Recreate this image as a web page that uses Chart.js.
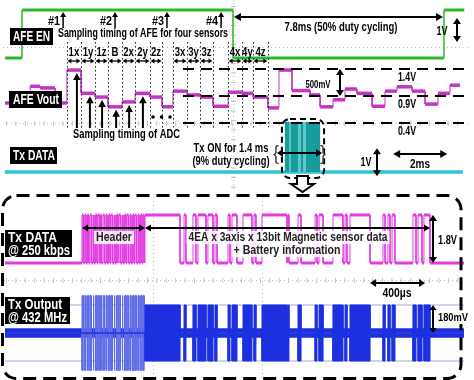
<!DOCTYPE html>
<html><head><meta charset="utf-8">
<style>html,body{margin:0;padding:0;background:#fff;overflow:hidden}</style>
<script src="https://cdn.jsdelivr.net/npm/chart.js@4.4.1/dist/chart.umd.min.js"></script>
</head><body><canvas id="c" width="474" height="380"></canvas>
<script>
// ================= DATA =================
// AFE EN (time in ms, level in V) - each level holds from its time to the next
const enTimesMs = [-0.63, 0, 7.8, 15.6, 16.35];
const enLevelsV = [0, 2.0, 0, 2.0, 2.0];

// AFE Vout steps (ms, V)
const voutTimesMs = [-0.63, 0, 0.30, 0.67, 1.22, 1.66, 2.18, 2.70, 3.18, 3.70, 4.18, 4.73, 5.18, 5.58, 6.10, 6.58, 7.06, 7.62, 8.13, 8.54, 9.09, 9.50, 9.98, 10.65, 11.02, 11.50, 11.94, 12.38, 12.94, 13.42, 13.86, 14.42, 14.90, 15.38, 15.82, 16.19];
const voutLevelsV = [0.77, 0.88, 1.08, 1.05, 0.77, 1.38, 0.95, 0.88, 0.70, 0.79, 0.95, 0.88, 0.70, 0.99, 0.92, 0.88, 0.71, 0.97, 0.95, 0.88, 0.68, 1.38, 1.00, 0.92, 0.70, 0.83, 1.03, 0.95, 0.71, 0.99, 1.07, 0.99, 0.75, 0.95, 1.10, 1.10];
const voutRefV = [1.4, 0.9, 0.4];
const voutRefLabels = ['1.4V', '0.9V', '0.4V'];

// sensor phases (segments of the Vout steps, starting at step index 5)
const phaseFirstStep = 5;
const phaseLabels = ['1x', '1y', '1z', 'B', '2x', '2y', '2z', '', '3x', '3y', '3z', '', '4x', '4y', '4z'];
const afeSampleMs = [1.52, 3.44, 5.36, 7.36];
const afeSampleLabels = ['#1', '#2', '#3', '#4'];
const adcSampleMs = [2.03, 2.51, 2.96, 3.48, 3.96, 4.47];

// Tx DATA (top view, ms)
const txTopSpanMs = [-0.63, 16.3];
const txTopBurstMs = [9.72, 11.02];
const txTopDenseMs = [[9.72, 9.87], [9.94, 10.20], [10.31, 10.39], [10.50, 11.02]];
const txLevelV = 1.8;

// Tx DATA (zoomed view, microseconds) : high intervals
const txBotSpanUs = [-560, 2778];
const txHeaderUs = [[0, 9], [20, 29], [40, 49], [58, 69], [80, 87], [98, 109], [116, 127], [135, 142], [153, 164], [175, 182], [193, 204], [211, 222], [233, 240], [251, 262], [269, 280], [291, 298], [309, 320], [327, 338], [349, 356], [367, 378], [385, 396], [407, 415], [425, 436], [444, 452]];
const txPayloadUs = [[458, 713], [742, 756], [807, 829], [844, 902], [916, 953], [967, 982], [1062, 1076], [1091, 1127], [1171, 1236], [1251, 1265], [1309, 1491], [1498, 1505], [1571, 1593], [1695, 1709], [1724, 1753], [1825, 1898], [1913, 1927], [1949, 2095], [2189, 2204], [2225, 2240], [2255, 2276], [2407, 2429], [2444, 2473], [2487, 2531]];
// Tx Output (432 MHz OOK) amplitudes, mV
const rfAmpMv = 180;
const rfHeaderAmpMv = 240;
const rfNoiseMv = 30;
// scale bars
const timeBarMs = [13.72, 15.72];
const timeBarUs = [2095, 2495];

// ================= CHANNEL PLACEMENT (scope settings) =================
const W = 474, H = 380;
function xRange(ref, px, ppu) { const min = ref - px / ppu; return { min, max: min + W / ppu }; }
function yRange(ref, px, ppu) { const max = ref + px / ppu; return { min: max - H / ppu, max }; }
const chan = {
  xTop: xRange(0, 22, 27.05),
  xBot: xRange(0, 82, 0.1375),
  yEN: yRange(0, 58, 24),
  yVout: yRange(0.9, 96, 54),
  yTxTop: yRange(0, 172, 27.8),
  yTxBot: yRange(0, 263, 26.7),
  yRF: yRange(0, 333, 0.1556)
};

// ================= SERIES BUILDERS =================
function stepSeries(times, levels) {
  const pts = [];
  for (let i = 0; i < times.length; i++) {
    if (i > 0) pts.push({ x: times[i], y: levels[i - 1] });
    pts.push({ x: times[i], y: levels[i] });
  }
  return pts;
}
function pulseSeries(span, runs, hi, lo) {
  const pts = [{ x: span[0], y: lo }];
  runs.forEach(([a, b]) => pts.push({ x: a, y: lo }, { x: a, y: hi }, { x: b, y: hi }, { x: b, y: lo }));
  pts.push({ x: span[1], y: lo });
  return pts;
}
function flat(span, v) { return [{ x: span[0], y: v }, { x: span[1], y: v }]; }
const thinVert = (thin, thick) => ctx => Math.abs(ctx.p0.x - ctx.p1.x) < 0.3 ? thin : thick;
function voutAt(t) { let v = voutLevelsV[0]; voutTimesMs.forEach((tt, i) => { if (tt <= t) v = voutLevelsV[i]; }); return v; }

const datasets = [];
function add(d) {
  datasets.push(Object.assign({ pointRadius: 0, pointHoverRadius: 0, tension: 0, fill: false, order: -datasets.length }, d));
}
const allTx = txHeaderUs.concat(txPayloadUs);
// Tx Output (blue)
add({ xAxisID: 'xBot', yAxisID: 'yRF', data: flat(txBotSpanUs, rfAmpMv), borderColor: '#a3aadf', borderWidth: 1 });
add({ xAxisID: 'xBot', yAxisID: 'yRF', data: flat(txBotSpanUs, -rfAmpMv), borderColor: '#a3aadf', borderWidth: 1 });
add({ xAxisID: 'xBot', yAxisID: 'yRF', data: flat(txBotSpanUs, rfNoiseMv), borderWidth: 0, fill: { value: -rfNoiseMv }, backgroundColor: '#1d30e0' });
add({ xAxisID: 'xBot', yAxisID: 'yRF', data: pulseSeries(txBotSpanUs, txHeaderUs, rfHeaderAmpMv, 0), borderColor: '#5f6be8', borderWidth: 1, fill: 'origin', backgroundColor: '#7480ec' });
add({ xAxisID: 'xBot', yAxisID: 'yRF', data: pulseSeries(txBotSpanUs, txHeaderUs, -rfHeaderAmpMv, 0), borderColor: '#5f6be8', borderWidth: 1, fill: 'origin', backgroundColor: '#7480ec' });
add({ xAxisID: 'xBot', yAxisID: 'yRF', data: pulseSeries(txBotSpanUs, txPayloadUs, rfAmpMv, 0), borderColor: '#1d30e0', borderWidth: 1, fill: 'origin', backgroundColor: '#1d30e0' });
add({ xAxisID: 'xBot', yAxisID: 'yRF', data: pulseSeries(txBotSpanUs, txPayloadUs, -rfAmpMv, 0), borderColor: '#1d30e0', borderWidth: 1, fill: 'origin', backgroundColor: '#1d30e0' });
// Tx DATA zoomed (magenta)
add({ xAxisID: 'xBot', yAxisID: 'yTxBot', data: flat([txHeaderUs[0][0], txHeaderUs[txHeaderUs.length - 1][1]], txLevelV), borderWidth: 0, fill: 'origin', backgroundColor: 'rgba(238,150,236,0.45)' });
add({ xAxisID: 'xBot', yAxisID: 'yTxBot', data: pulseSeries(txBotSpanUs, allTx, txLevelV, 0), borderColor: '#e23be2', borderWidth: 3, segment: { borderWidth: thinVert(1, 3) } });
// Tx DATA top (cyan / teal)
add({ xAxisID: 'xTop', yAxisID: 'yTxTop', data: flat(txTopSpanMs, 0), borderColor: '#2fc3d3', borderWidth: 3.5 });
add({ xAxisID: 'xTop', yAxisID: 'yTxTop', data: pulseSeries(txTopSpanMs, [txTopBurstMs], txLevelV, 0), borderWidth: 0, fill: 'origin', backgroundColor: '#63c7c9' });
add({ xAxisID: 'xTop', yAxisID: 'yTxTop', data: pulseSeries(txTopSpanMs, txTopDenseMs, txLevelV, 0), borderWidth: 0, fill: 'origin', backgroundColor: '#179c9e' });
// AFE EN (green)
add({ xAxisID: 'xTop', yAxisID: 'yEN', data: stepSeries(enTimesMs, enLevelsV), borderColor: '#2db82d', borderWidth: 3, segment: { borderWidth: thinVert(1.5, 3) } });
// AFE Vout (magenta)
add({ xAxisID: 'xTop', yAxisID: 'yVout', data: stepSeries(voutTimesMs, voutLevelsV), borderColor: '#c535c5', borderWidth: 3.5, segment: { borderWidth: thinVert(1, 3.5) } });

// ================= DRAW HELPERS =================
const FONT = '"Liberation Sans Narrow","Arial Narrow","Liberation Sans",Arial,sans-serif';
function head(c, x, y, ang, len, half) {
  const ca = Math.cos(ang), sa = Math.sin(ang);
  c.beginPath(); c.moveTo(x, y);
  c.lineTo(x - len * ca - half * sa, y - len * sa + half * ca);
  c.lineTo(x - len * ca + half * sa, y - len * sa - half * ca);
  c.closePath(); c.fill();
}
function arrow(c, x1, y1, x2, y2, o = {}) {
  const w = o.w ?? 2, len = o.len ?? 6, half = o.half ?? 3.5, both = o.both ?? true;
  const ang = Math.atan2(y2 - y1, x2 - x1), ca = Math.cos(ang), sa = Math.sin(ang);
  c.save(); c.strokeStyle = c.fillStyle = o.color || '#000'; c.lineWidth = w; c.setLineDash([]);
  c.beginPath();
  c.moveTo(both ? x1 + ca * len * 0.6 : x1, both ? y1 + sa * len * 0.6 : y1);
  c.lineTo(x2 - ca * len * 0.6, y2 - sa * len * 0.6); c.stroke();
  head(c, x2, y2, ang, len, half);
  if (both) head(c, x1, y1, ang + Math.PI, len, half);
  c.restore();
}
function text(c, s, x, y, size, width, o = {}) {
  c.save();
  c.font = (o.weight || 'bold') + ' ' + size + 'px ' + FONT;
  c.textBaseline = 'middle'; c.textAlign = 'left';
  const nat = c.measureText(s).width;
  const sx = width ? width / nat : (o.sx || 0.85);
  const tw = nat * sx;
  const left = o.align === 'left' ? x : x - tw / 2;
  if (o.bg) { c.fillStyle = o.bg; c.fillRect(left - 2, y - size * 0.55, tw + 4, size * 1.1); }
  c.fillStyle = o.color || '#000';
  c.translate(left, y); c.scale(sx, 1); c.fillText(s, 0, 0);
  c.restore();
}
function line(c, x1, y1, x2, y2) { c.beginPath(); c.moveTo(x1, y1); c.lineTo(x2, y2); c.stroke(); }
function rrect(c, x0, y0, x1, y1, r) {
  c.beginPath();
  c.moveTo(x0 + r, y0); c.lineTo(x1 - r, y0); c.arcTo(x1, y0, x1, y0 + r, r);
  c.lineTo(x1, y1 - r); c.arcTo(x1, y1, x1 - r, y1, r);
  c.lineTo(x0 + r, y1); c.arcTo(x0, y1, x0, y1 - r, r);
  c.lineTo(x0, y0 + r); c.arcTo(x0, y0, x0 + r, y0, r);
  c.closePath();
}
function labelBox(c, x0, y0, x1, y1, lines) {
  c.save(); c.fillStyle = '#000'; c.fillRect(x0, y0, x1 - x0, y1 - y0); c.restore();
  lines.forEach(l => text(c, l[0], l[1], l[2], l[3], l[4], { color: '#fff', align: 'left' }));
}

const scopePlugin = {
  id: 'scope',
  beforeDraw(chart) {
    const c = chart.ctx; c.save(); c.fillStyle = '#fff'; c.fillRect(0, 0, chart.width, chart.height); c.restore();
  },
  beforeDatasetsDraw(chart) {
    const c = chart.ctx; c.save();
    c.strokeStyle = '#bdbdbd'; c.lineWidth = 1; c.setLineDash([1, 3]);
    line(c, 3, 47.5, 470, 47.5); line(c, 3, 123.5, 470, 123.5);
    line(c, 233.5, 0, 233.5, 190);
    line(c, 4, 280.5, 460, 280.5); line(c, 153.5, 197, 153.5, 377); line(c, 262.5, 197, 262.5, 377);
    c.setLineDash([]); c.strokeStyle = '#c4c4c4';
    for (let x = 6; x < 460; x += 9.4) { line(c, x + 0.5, 278, x + 0.5, 283); line(c, x + 0.5, 121, x + 0.5, 126); }
    for (let y = 6; y < 188; y += 9.5) line(c, 231, y + 0.5, 236, y + 0.5);
    c.restore();
  },
  afterDatasetsDraw(chart) {
    const c = chart.ctx, s = chart.scales;
    const X = v => s.xTop.getPixelForValue(v), XB = v => s.xBot.getPixelForValue(v);
    const YV = v => s.yVout.getPixelForValue(v), YE = v => s.yEN.getPixelForValue(v);
    const YT = v => s.yTxTop.getPixelForValue(v), YB = v => s.yTxBot.getPixelForValue(v), YR = v => s.yRF.getPixelForValue(v);
    c.save();
    // phase boundaries (dotted)
    c.strokeStyle = '#222'; c.lineWidth = 1; c.setLineDash([1.5, 2.5]);
    for (let i = phaseFirstStep; i <= phaseFirstStep + phaseLabels.length; i++) {
      const x = Math.round(X(voutTimesMs[i])) + 0.5; line(c, x, 42, x, 130);
    }
    c.setLineDash([]);
    phaseLabels.forEach((lab, k) => {
      if (!lab) return;
      const x1 = X(voutTimesMs[phaseFirstStep + k]), x2 = X(voutTimesMs[phaseFirstStep + k + 1]);
      arrow(c, x1 + 0.5, 61, x2 - 0.5, 61, { w: 1.3, len: 4, half: 2.6 });
      text(c, lab, (x1 + x2) / 2, 52.5, 12, null, { sx: 0.8 });
    });
    // ADC sampling arrows
    adcSampleMs.forEach(t => { const x = X(t); arrow(c, x, 128, x, YV(voutAt(t)) + 3, { both: false, w: 2, len: 7, half: 3.8 }); });
    [153, 161.5, 170].forEach(x => { c.beginPath(); c.arc(x, 117, 1.8, 0, Math.PI * 2); c.fillStyle = '#000'; c.fill(); });
    text(c, 'Sampling timing of ADC', 126.5, 134.5, 13, 107);
    // AFE sampling #n
    afeSampleMs.forEach((t, i) => {
      const x = X(t); arrow(c, x, 28, x, 12, { both: false, w: 1.5, len: 5, half: 3 });
      text(c, afeSampleLabels[i], x - 9, 21.5, 12, 12);
    });
    text(c, 'Sampling timing of AFE for four sensors', 143, 33, 13, 170);
    // 7.8 ms
    arrow(c, X(enTimesMs[2]) + 1, 17, X(enTimesMs[3]) - 1, 17, { w: 2, len: 7, half: 4 });
    text(c, '7.8ms (50% duty cycling)', 341, 28, 12, 113);
    arrow(c, 457, YE(1.67), 457, YE(0.67), { w: 2, len: 6, half: 4 });
    text(c, '1V', 442, 32, 12, 11);
    // Vout reference lines
    c.strokeStyle = '#000'; c.lineWidth = 2; c.setLineDash([11, 7]);
    voutRefV.forEach(v => { const y = Math.round(YV(v)); line(c, 183, y, 466, y); });
    c.setLineDash([]);
    voutRefV.forEach((v, i) => text(c, voutRefLabels[i], 407, YV(v) + 8.5, 12, 18));
    arrow(c, 340, YV(voutRefV[0]), 340, YV(voutRefV[1]), { w: 2, len: 6, half: 4 });
    text(c, '500mV', 318, 84.5, 11, 25);
    // Tx ON block
    const bx0 = X(txTopBurstMs[0]), bx1 = X(txTopBurstMs[1]);
    c.strokeStyle = '#000'; c.lineWidth = 2; c.setLineDash([6, 4]);
    rrect(c, bx0 - 3, 119, bx1 + 4, 178, 8); c.stroke(); c.setLineDash([]);
    text(c, '{', bx0 - 9, 154, 20, 6, { weight: 'normal', color: '#444' });
    text(c, '}', bx1 + 3, 154, 20, 6, { weight: 'normal', color: '#444' });
    arrow(c, bx0 - 8, 153, bx1 + 2, 153, { w: 2, len: 6, half: 4 });
    text(c, 'Tx ON for 1.4 ms', 231, 149, 12, 75);
    text(c, '(9% duty cycling)', 231, 161.5, 12, 77);
    arrow(c, 377, YT(0.85), 377, YT(-0.15), { w: 2, len: 6, half: 4 });
    text(c, '1V', 366, 162.5, 12, 11);
    arrow(c, X(timeBarMs[0]), 154, X(timeBarMs[1]), 154, { w: 2, len: 7, half: 4 });
    text(c, '2ms', 420, 165, 12, 20);
    // hollow down arrow
    c.beginPath(); c.moveTo(297, 176); c.lineTo(308, 176); c.lineTo(308, 184); c.lineTo(314, 184);
    c.lineTo(302.5, 192); c.lineTo(291, 184); c.lineTo(297, 184); c.closePath();
    c.fillStyle = '#fff'; c.fill(); c.strokeStyle = '#000'; c.lineWidth = 2; c.stroke();
    // bottom panel border
    c.lineWidth = 3; c.setLineDash([13, 7]); rrect(c, 2.5, 195.5, 461, 378.5, 14); c.stroke(); c.setLineDash([]);
    // bottom annotations
    const h0 = XB(txHeaderUs[0][0]), h1 = XB(txPayloadUs[0][0]), p1 = XB(txPayloadUs[txPayloadUs.length - 1][1]);
    arrow(c, h0, 228, h1, 228, { w: 2, len: 6, half: 3.5 });
    arrow(c, h1, 228, p1, 228, { w: 2, len: 6, half: 3.5 });
    text(c, 'Header', 114, 237.5, 12, 36, { bg: 'rgba(255,255,255,0.85)', color: '#222' });
    text(c, '4EA x 3axis x 13bit Magnetic sensor data', 288, 237.5, 12, 199, { bg: 'rgba(255,255,255,0.85)', color: '#222' });
    text(c, '+ Battery information', 287, 250.5, 12, 107, { bg: 'rgba(255,255,255,0.85)', color: '#222' });
    arrow(c, 433, YB(txLevelV), 433, YB(0), { w: 2, len: 6, half: 4 });
    text(c, '1.8V', 447.5, 240.5, 12, 19, { bg: '#fff' });
    arrow(c, XB(timeBarUs[0]), 283, XB(timeBarUs[1]), 283, { w: 2, len: 6, half: 4 });
    text(c, '400\u00b5s', 397, 293.5, 12, 29, { bg: 'rgba(255,255,255,0.8)' });
    arrow(c, 433, YR(rfAmpMv), 433, YR(0), { w: 2, len: 5, half: 3.5 });
    text(c, '180mV', 453, 318, 11, 30, { bg: '#fff' });
    // channel label boxes
    labelBox(c, 10, 28, 53, 45, [['AFE EN', 13, 37, 15, 37]]);
    labelBox(c, 9, 91, 62, 108, [['AFE Vout', 13, 100, 15, 46]]);
    labelBox(c, 10, 147, 57, 164, [['Tx DATA', 13, 156, 15, 42]]);
    labelBox(c, 5, 230, 72, 257, [['Tx DATA', 8, 238.5, 14, 49], ['@ 250 kbps', 8, 251, 14, 62]]);
    labelBox(c, 5, 297, 70, 324, [['Tx Output', 8, 305, 14, 54], ['@ 432 MHz', 8, 318, 14, 59]]);
    c.restore();
  }
};

const scales = {};
Object.keys(chan).forEach(id => {
  scales[id] = { type: 'linear', axis: id[0], display: false, min: chan[id].min, max: chan[id].max, bounds: 'data', grace: 0 };
});

new Chart(document.getElementById('c'), {
  type: 'line',
  data: { datasets },
  options: {
    responsive: false, animation: false, events: [],
    layout: { padding: 0 },
    scales,
    plugins: { legend: { display: false }, tooltip: { enabled: false } }
  },
  plugins: [scopePlugin]
});
</script></body></html>
